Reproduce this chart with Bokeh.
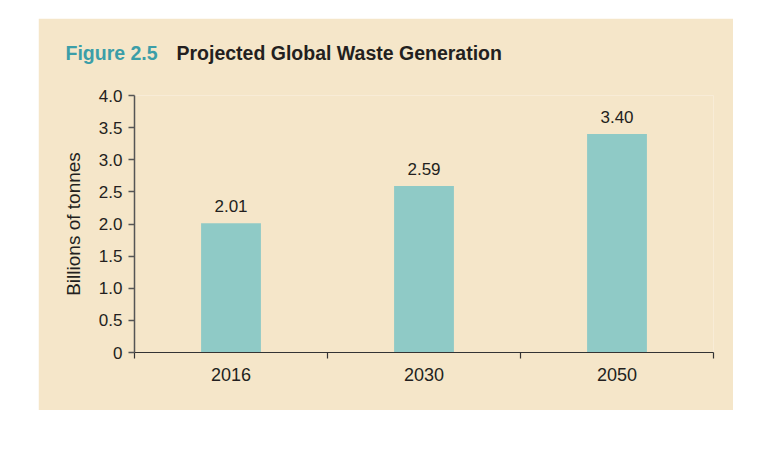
from bokeh.plotting import figure
from bokeh.models import FixedTicker, CustomJSTickFormatter, ColumnDataSource, Range1d, Title
from bokeh.core.properties import value
from bokeh.embed import file_html
from bokeh.resources import INLINE

years = ["2016", "2030", "2050"]
waste = [2.01, 2.59, 3.40]
value_labels = ["2.01", "2.59", "3.40"]
y_ticks = [0, 0.5, 1.0, 1.5, 2.0, 2.5, 3.0, 3.5, 4.0]
fig_label = "Figure 2.5"
title_text = "Projected Global Waste Generation"

BG = "#f5e6c9"
BAR = "#8fcac6"
TEAL = "#3c9ea8"
TXT = "#231f20"
AX = "#555555"
FONT = "Liberation Sans"
TSIZE = "19.5px"

xpos = [i + 0.5 for i in range(len(years))]
src = ColumnDataSource(dict(x=xpos, y=waste, lab=value_labels))

p = figure(width=695, height=392, output_backend="svg", toolbar_location=None,
           x_range=Range1d(0, len(years)), y_range=Range1d(0, 4.0),
           min_border_left=96, min_border_right=20, min_border_top=77, min_border_bottom=58)
p.margin = (18, 0, 0, 38)
p.background_fill_color = BG
p.border_fill_color = BG
p.outline_line_color = None
p.grid.visible = False

p.vbar(x="x", top="y", width=0.31, bottom=0, source=src, fill_color=BAR, line_color=None)
p.text(x="x", y="y", text="lab", source=src, text_align="center", text_baseline="bottom",
       y_offset=-11, text_font=value(FONT), text_font_size="17px", text_color=TXT)

ya = p.yaxis[0]
ya.ticker = FixedTicker(ticks=y_ticks)
ya.formatter = CustomJSTickFormatter(code="return tick == 0 ? '0' : tick.toFixed(1);")
ya.axis_label = "Billions of tonnes"
ya.axis_label_text_font = FONT
ya.axis_label_text_font_size = "19px"
ya.axis_label_text_font_style = "normal"
ya.axis_label_text_color = TXT
ya.axis_label_standoff = 12
ya.major_label_text_font = FONT
ya.major_label_text_font_size = "17px"
ya.major_label_text_color = TXT
ya.major_label_standoff = 6
ya.major_tick_in = 0
ya.major_tick_out = 6
ya.minor_tick_line_color = None
ya.axis_line_color = AX
ya.axis_line_width = 1.5
ya.major_tick_line_color = AX
ya.major_tick_line_width = 1.5

xa = p.xaxis[0]
xa.ticker = FixedTicker(ticks=xpos, minor_ticks=list(range(len(years) + 1)))
xa.formatter = CustomJSTickFormatter(args=dict(labels=years), code="return labels[Math.floor(tick)];")
xa.major_tick_in = 0
xa.major_tick_out = 0
xa.minor_tick_in = 0
xa.minor_tick_out = 6
xa.minor_tick_line_color = "#333333"
xa.minor_tick_line_width = 1.2
xa.axis_line_color = "#333333"
xa.axis_line_width = 1.2
xa.major_label_text_font = FONT
xa.major_label_text_font_size = "18px"
xa.major_label_text_color = TXT
xa.major_label_standoff = 9

# title row: spacer (nearest the frame), main title, then figure number on the same line
p.add_layout(Title(text=" ", text_font=FONT, text_font_size=TSIZE, standoff=20), "above")
p.add_layout(Title(text=title_text, text_color=TXT, text_font=FONT, text_font_style="bold",
                   text_font_size=TSIZE, align="left", offset=42, standoff=-24), "above")
p.add_layout(Title(text=fig_label, text_color=TEAL, text_font=FONT, text_font_style="bold",
                   text_font_size=TSIZE, align="left", offset=-69, standoff=-24), "above")

open("out.html", "w").write(file_html(p, INLINE))
